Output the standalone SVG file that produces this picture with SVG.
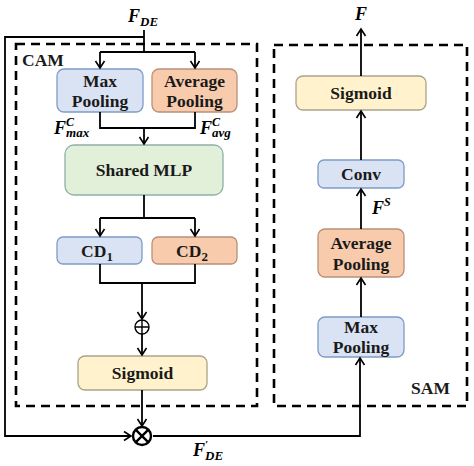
<svg xmlns="http://www.w3.org/2000/svg" width="474" height="466" viewBox="0 0 474 466">
<style>
.box{stroke-width:1.3}
.blue{fill:#dae3f3;stroke:#7f9cc5}
.orange{fill:#f8cbad;stroke:#b8917a}
.green{fill:#e2f0d9;stroke:#8fb0ad}
.yellow{fill:#fff2cc;stroke:#a9a48a}
.lbl{font-family:"Liberation Serif",serif;font-weight:bold;font-size:17.5px;fill:#1a1a1a;text-anchor:middle}
.sub{font-size:13px;font-style:normal}
.math{font-family:"Liberation Serif",serif;font-weight:bold;font-style:italic;fill:#000}
.ln{fill:none;stroke:#000;stroke-width:1.8}
.dash{fill:none;stroke:#000;stroke-width:2.6;stroke-dasharray:9 6}
</style>
<defs>
<marker id="arr" markerWidth="12" markerHeight="12" refX="10" refY="6" orient="auto" markerUnits="userSpaceOnUse">
<path d="M3,1.5 L10,6 L3,10.5" fill="none" stroke="#000" stroke-width="1.6"/>
</marker>
</defs>
<rect width="474" height="466" fill="#fff"/>

<g id="cam-frame">
<rect x="16" y="44" width="241" height="362" class="dash"/>
<text x="22" y="66" class="lbl" style="text-anchor:start">CAM</text>
</g>
<g id="sam-frame">
<rect x="274" y="45" width="193" height="361" class="dash"/>
<text x="450" y="394" class="lbl" style="text-anchor:end">SAM</text>
</g>

<g id="cam-maxpool">
<rect x="57" y="69" width="86" height="43" rx="7" class="box blue"/>
<text x="100" y="87" class="lbl">Max</text>
<text x="100" y="107" class="lbl">Pooling</text>
</g>
<g id="cam-avgpool">
<rect x="152" y="69" width="85" height="43" rx="7" class="box orange"/>
<text x="194.5" y="87" class="lbl">Average</text>
<text x="194.5" y="107" class="lbl">Pooling</text>
</g>
<g id="shared-mlp">
<rect x="65" y="145" width="158" height="50" rx="9" class="box green"/>
<text x="144" y="176" class="lbl">Shared MLP</text>
</g>
<g id="cd1">
<rect x="57" y="237" width="85" height="27" rx="6" class="box blue"/>
<text x="97" y="257" class="lbl">CD<tspan class="sub" dy="4">1</tspan></text>
</g>
<g id="cd2">
<rect x="152" y="237" width="85" height="27" rx="6" class="box orange"/>
<text x="192" y="257" class="lbl">CD<tspan class="sub" dy="4">2</tspan></text>
</g>
<g id="add">
<circle cx="142" cy="327" r="7" fill="#fff" stroke="#000" stroke-width="1.4"/>
<path d="M135,327 H149 M142,320 V334" stroke="#000" stroke-width="1.4"/>
</g>
<g id="cam-sigmoid">
<rect x="78" y="356" width="129" height="34" rx="7" class="box yellow"/>
<text x="142.5" y="379" class="lbl">Sigmoid</text>
</g>
<g id="mul">
<circle cx="142" cy="436" r="9" fill="#fff" stroke="#000" stroke-width="2.4"/>
<path d="M135.6,429.6 L148.4,442.4 M148.4,429.6 L135.6,442.4" stroke="#000" stroke-width="2.4"/>
</g>

<g id="sam-maxpool">
<rect x="318" y="317" width="86" height="40" rx="7" class="box blue"/>
<text x="361" y="333" class="lbl">Max</text>
<text x="361" y="353" class="lbl">Pooling</text>
</g>
<g id="sam-avgpool">
<rect x="318" y="229" width="86" height="48" rx="7" class="box orange"/>
<text x="361" y="249" class="lbl">Average</text>
<text x="361" y="270" class="lbl">Pooling</text>
</g>
<g id="conv">
<rect x="318" y="160" width="86" height="28" rx="6" class="box blue"/>
<text x="361" y="180" class="lbl">Conv</text>
</g>
<g id="sam-sigmoid">
<rect x="296" y="76" width="130" height="34" rx="7" class="box yellow"/>
<text x="361" y="99" class="lbl">Sigmoid</text>
</g>

<g id="labels">
<text x="128" y="22" class="math" font-size="18">F<tspan font-size="13" dy="4">DE</tspan></text>
<text x="54" y="134" class="math" font-size="18">F<tspan font-size="12" dy="-8">C</tspan><tspan font-size="13" dx="-8" dy="11">max</tspan></text>
<text x="200" y="134" class="math" font-size="18">F<tspan font-size="12" dy="-8">C</tspan><tspan font-size="13" dx="-8" dy="11">avg</tspan></text>
<text x="193" y="456" class="math" font-size="18">F<tspan font-size="11" dy="-8">′</tspan><tspan font-size="13" dx="-3" dy="12">DE</tspan></text>
<text x="372" y="214" class="math" font-size="18">F<tspan font-size="12" dy="-8">S</tspan></text>
<text x="355" y="20" class="math" font-size="18">F</text>
</g>

<g id="connectors">
<path d="M144,30 V52" class="ln"/>
<path d="M144,37 H5 V436 H131" class="ln" marker-end="url(#arr)"/>
<path d="M100,52 H195" class="ln"/>
<path d="M100,52 V68" class="ln" marker-end="url(#arr)"/>
<path d="M195,52 V68" class="ln" marker-end="url(#arr)"/>
<path d="M100,112 V128 H195 V112" class="ln"/>
<path d="M144,128 V144" class="ln" marker-end="url(#arr)"/>
<path d="M144,195 V218" class="ln"/>
<path d="M100,218 H195" class="ln"/>
<path d="M100,218 V236" class="ln" marker-end="url(#arr)"/>
<path d="M195,218 V236" class="ln" marker-end="url(#arr)"/>
<path d="M100,264 V283 H195 V264" class="ln"/>
<path d="M142,283 V319" class="ln" marker-end="url(#arr)"/>
<path d="M142,334 V355" class="ln" marker-end="url(#arr)"/>
<path d="M142,390 V426" class="ln" marker-end="url(#arr)"/>
<path d="M153,436 H360 V358" class="ln" marker-end="url(#arr)"/>
<path d="M361,317 V278" class="ln" marker-end="url(#arr)"/>
<path d="M361,229 V189" class="ln" marker-end="url(#arr)"/>
<path d="M361,160 V111" class="ln" marker-end="url(#arr)"/>
<path d="M361,76 V29" class="ln" marker-end="url(#arr)"/>
</g>
</svg>
